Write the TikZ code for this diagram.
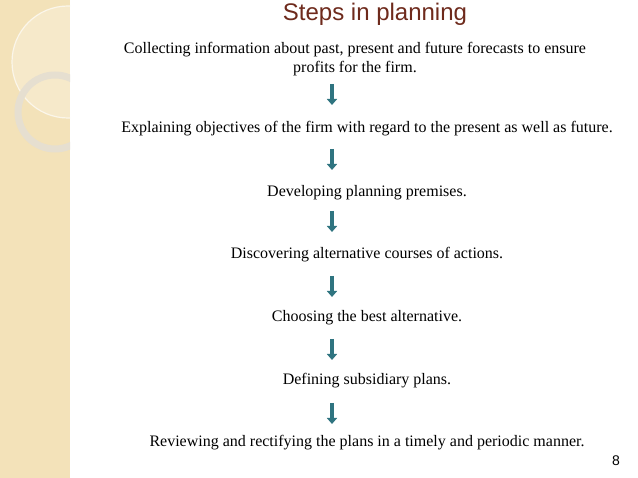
\documentclass[tikz,border=0pt]{standalone}
\usepackage{fontspec}
\setmainfont{Liberation Serif}
\newfontfamily\arialf{Liberation Sans}
\definecolor{band}{HTML}{F3E2B9}
\definecolor{ttl}{HTML}{6E2A1C}
\definecolor{arr}{HTML}{2F7480}
\definecolor{ring}{HTML}{E6DFD0}
\tikzset{stepbox/.style={font=\fontsize{16}{18.5}\selectfont, align=center, inner sep=0pt},
 flow/.style={arr, line width=3.5pt, -{Triangle[width=10pt,length=6pt]}, shorten <=1pt, shorten >=1pt}}
\usetikzlibrary{arrows.meta}
\begin{document}
\begin{tikzpicture}[x=1pt,y=-1pt]
\useasboundingbox (0,0) rectangle (638,478);
\fill[white] (0,0) rectangle (638,478);
\fill[band] (0,0) rectangle (70,478);
\begin{scope}
\clip (0,0) rectangle (70,478);
\fill[white,opacity=0.25] (68,62) circle (56);
\draw[white!70!band,line width=1.2pt] (68,62) circle (56);
\draw[ring, line width=7pt] (55,112) circle (37);
\end{scope}
\node[font=\arialf\fontsize{24}{26}\selectfont, text=ttl] (title) at (375,14) {Steps in planning};
\node[stepbox] (s1) at (355,59) {Collecting information about past, present and future forecasts to ensure\\profits for the firm.};
\node[stepbox] (s2) at (367,129) {Explaining objectives of the firm with regard to the present as well as future.};
\node[stepbox] (s3) at (367,193) {Developing planning premises.};
\node[stepbox] (s4) at (367,255) {Discovering alternative courses of actions.};
\node[stepbox] (s5) at (367,318) {Choosing the best alternative.};
\node[stepbox] (s6) at (367,381) {Defining subsidiary plans.};
\node[stepbox] (s7) at (367,443) {Reviewing and rectifying the plans in a timely and periodic manner.};
\node[font=\arialf\fontsize{14}{16}\selectfont] (pg) at (616,461) {8};
\foreach \a/\b in {83/106,148/171,210/233,275/298,338/361,402/425}
  \draw[flow] (332,\a) -- (332,\b);
\end{tikzpicture}
\end{document}
